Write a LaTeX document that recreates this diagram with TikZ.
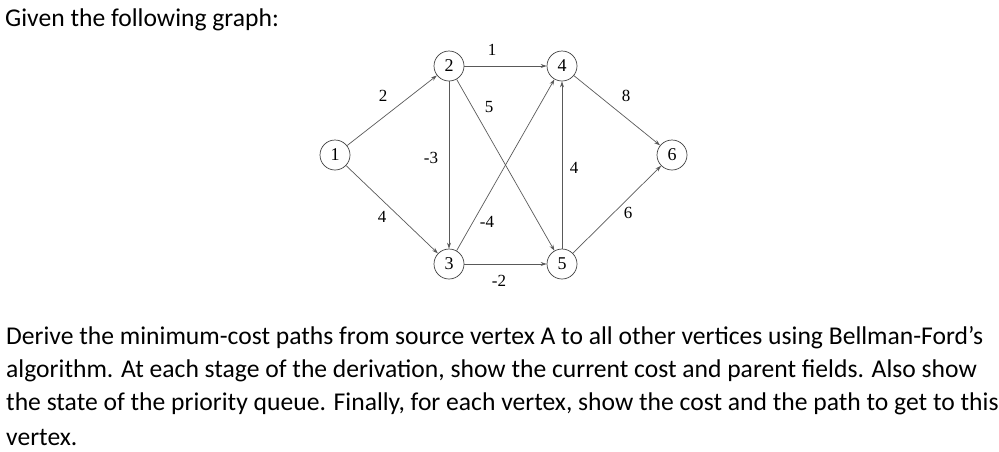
\documentclass[tikz,border=0pt]{standalone}
\usepackage{fontspec}
\setmainfont{Carlito}
\newfontfamily\gfont{Liberation Serif}
\usetikzlibrary{arrows.meta}
\begin{document}
\begin{tikzpicture}[x=1pt,y=-1pt,
  vert/.style={circle,draw=black!75,line width=0.7pt,minimum size=30pt,inner sep=0pt,font=\gfont\fontsize{18}{18}\selectfont},
  edge/.style={draw=black!65,line width=0.7pt,-{Stealth[length=6pt,width=4pt]}},
  lbl/.style={font=\gfont\fontsize{17}{17}\selectfont,inner sep=0pt},
  txt/.style={anchor=west,inner sep=0pt,font=\fontsize{25.6}{30}\selectfont}]
\useasboundingbox (0,0) rectangle (999,451);
\node[txt] (t0) at (5,20) {Given the following graph:};
\node[vert] (n1) at (335,155) {1};
\node[vert] (n2) at (449,66) {2};
\node[vert] (n4) at (562,66) {4};
\node[vert] (n3) at (449,264) {3};
\node[vert] (n5) at (562,264) {5};
\node[vert] (n6) at (672,155) {6};
\draw[edge] (n1) -- (n2);
\draw[edge] (n1) -- (n3);
\draw[edge] (n2) -- (n4);
\draw[edge] (n2) -- (n3);
\draw[edge] (n2) -- (n5);
\draw[edge] (n3) -- (n4);
\draw[edge] (n3) -- (n5);
\draw[edge] (n5) -- (n4);
\draw[edge] (n4) -- (n6);
\draw[edge] (n5) -- (n6);
\node[lbl] (l1) at (492,50) {1};
\node[lbl] (l2) at (383,96) {2};
\node[lbl] (l3) at (489,107) {5};
\node[lbl] (l4) at (626,96) {8};
\node[lbl] (l5) at (431,158) {-3};
\node[lbl] (l6) at (574,168) {4};
\node[lbl] (l7) at (382,217) {4};
\node[lbl] (l8) at (487,222) {-4};
\node[lbl] (l9) at (628,213) {6};
\node[lbl] (l10) at (499,281) {-2};
\node[txt] (p1) at (6,338) {Derive the minimum-cost paths from source vertex A to all other vertices using Bellman-Ford’s};
\node[txt] (p2) at (6,371) {algorithm. At each stage of the derivation, show the current cost and parent fields. Also show};
\node[txt] (p3) at (6,404) {the state of the priority queue. Finally, for each vertex, show the cost and the path to get to this};
\node[txt] (p4) at (6,437) {vertex.};
\end{tikzpicture}
\end{document}
